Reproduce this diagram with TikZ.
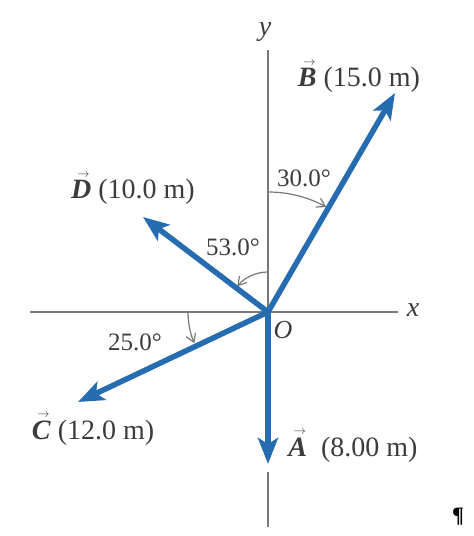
\documentclass[tikz,border=0pt]{standalone}
\usepackage{amsmath}
\usepackage{graphicx}
\usepackage{fontspec}
\setmainfont{Liberation Serif}
\usetikzlibrary{arrows.meta}

\definecolor{vecblue}{RGB}{38,108,176}
\definecolor{axisgray}{RGB}{120,120,120}
\definecolor{inkgray}{RGB}{60,60,60}

\newcommand{\bvec}[1]{\shortstack{\hspace*{4pt}\scalebox{0.5}{$\rightarrow$}\\\textbf{\textit{#1}}}}

\tikzset{
  axis/.style={draw=axisgray, line width=1.8pt},
  vector/.style={draw=vecblue, line width=5.5pt, -{Stealth[length=26pt,width=20pt,inset=6pt]}},
  anglearc/.style={draw=axisgray, line width=1.2pt, -{Straight Barb[length=8pt,width=10pt]}},
  lbl/.style={text=inkgray, font=\fontsize{28}{30}\selectfont, inner sep=0pt},
  anglbl/.style={text=inkgray, font=\fontsize{25}{27}\selectfont, inner sep=0pt}
}

\begin{document}
\begin{tikzpicture}[x=1pt,y=1pt]
            \useasboundingbox (-268,-224) rectangle (206,312);

            % Origin and axis ends
            \coordinate (O) at (0,0);
            \coordinate (xl) at (-238,0);
            \coordinate (xr) at (130,0);
            \coordinate (yt) at (0,262);
            \coordinate (yb1) at (0,-160);
            \coordinate (yb) at (0,-215);

            % The axes
            \draw[axis] (xl) -- (xr);
            \draw[axis] (yt) -- (O);
            \draw[axis] (yb1) -- (yb);
            \node[lbl, font=\fontsize{28}{30}\selectfont\itshape] (xlab) at (145,2) {x};
            \node[lbl, font=\fontsize{28}{30}\selectfont\itshape] (ylab) at (-3,280) {y};
            \node[lbl, font=\fontsize{26}{28}\selectfont\itshape] (olab) at (15,-18) {O};

            % Vector tips
            \coordinate (tA) at (0,-152);
            \coordinate (tB) at (127,219);
            \coordinate (tC) at (-190,-90);
            \coordinate (tD) at (-125,95);

            % Angle arcs
            \draw[anglearc] (0,120) arc[start angle=90, end angle=61, radius=120];
            \draw[anglearc] (0,40) arc[start angle=90, end angle=140, radius=40];
            \draw[anglearc] (-80,0) arc[start angle=180, end angle=203, radius=80];

            % The vectors!
            \draw[vector] (O) -- (tA);
            \draw[vector] (O) -- (tB);
            \draw[vector] (O) -- (tC);
            \draw[vector] (O) -- (tD);

            % Labels
            \node[lbl, anchor=base] (labB) at (91,225) {\bvec{B} (15.0 m)};
            \node[lbl, anchor=base] (labD) at (-135,113) {\bvec{D} (10.0 m)};
            \node[lbl, anchor=base] (labC) at (-175,-127) {\bvec{C} (12.0 m)};
            \node[lbl, anchor=base] (labA) at (85,-144) {\bvec{A}\ \ (8.00 m)};
            \node[anglbl] (a30) at (36,134) {30.0°};
            \node[anglbl] (a53) at (-35,65) {53.0°};
            \node[anglbl] (a25) at (-133,-30) {25.0°};
            \node[lbl, text=black, font=\fontsize{22}{24}\selectfont\bfseries] (pil) at (190,-205) {¶};
        \end{tikzpicture}
\end{document}
